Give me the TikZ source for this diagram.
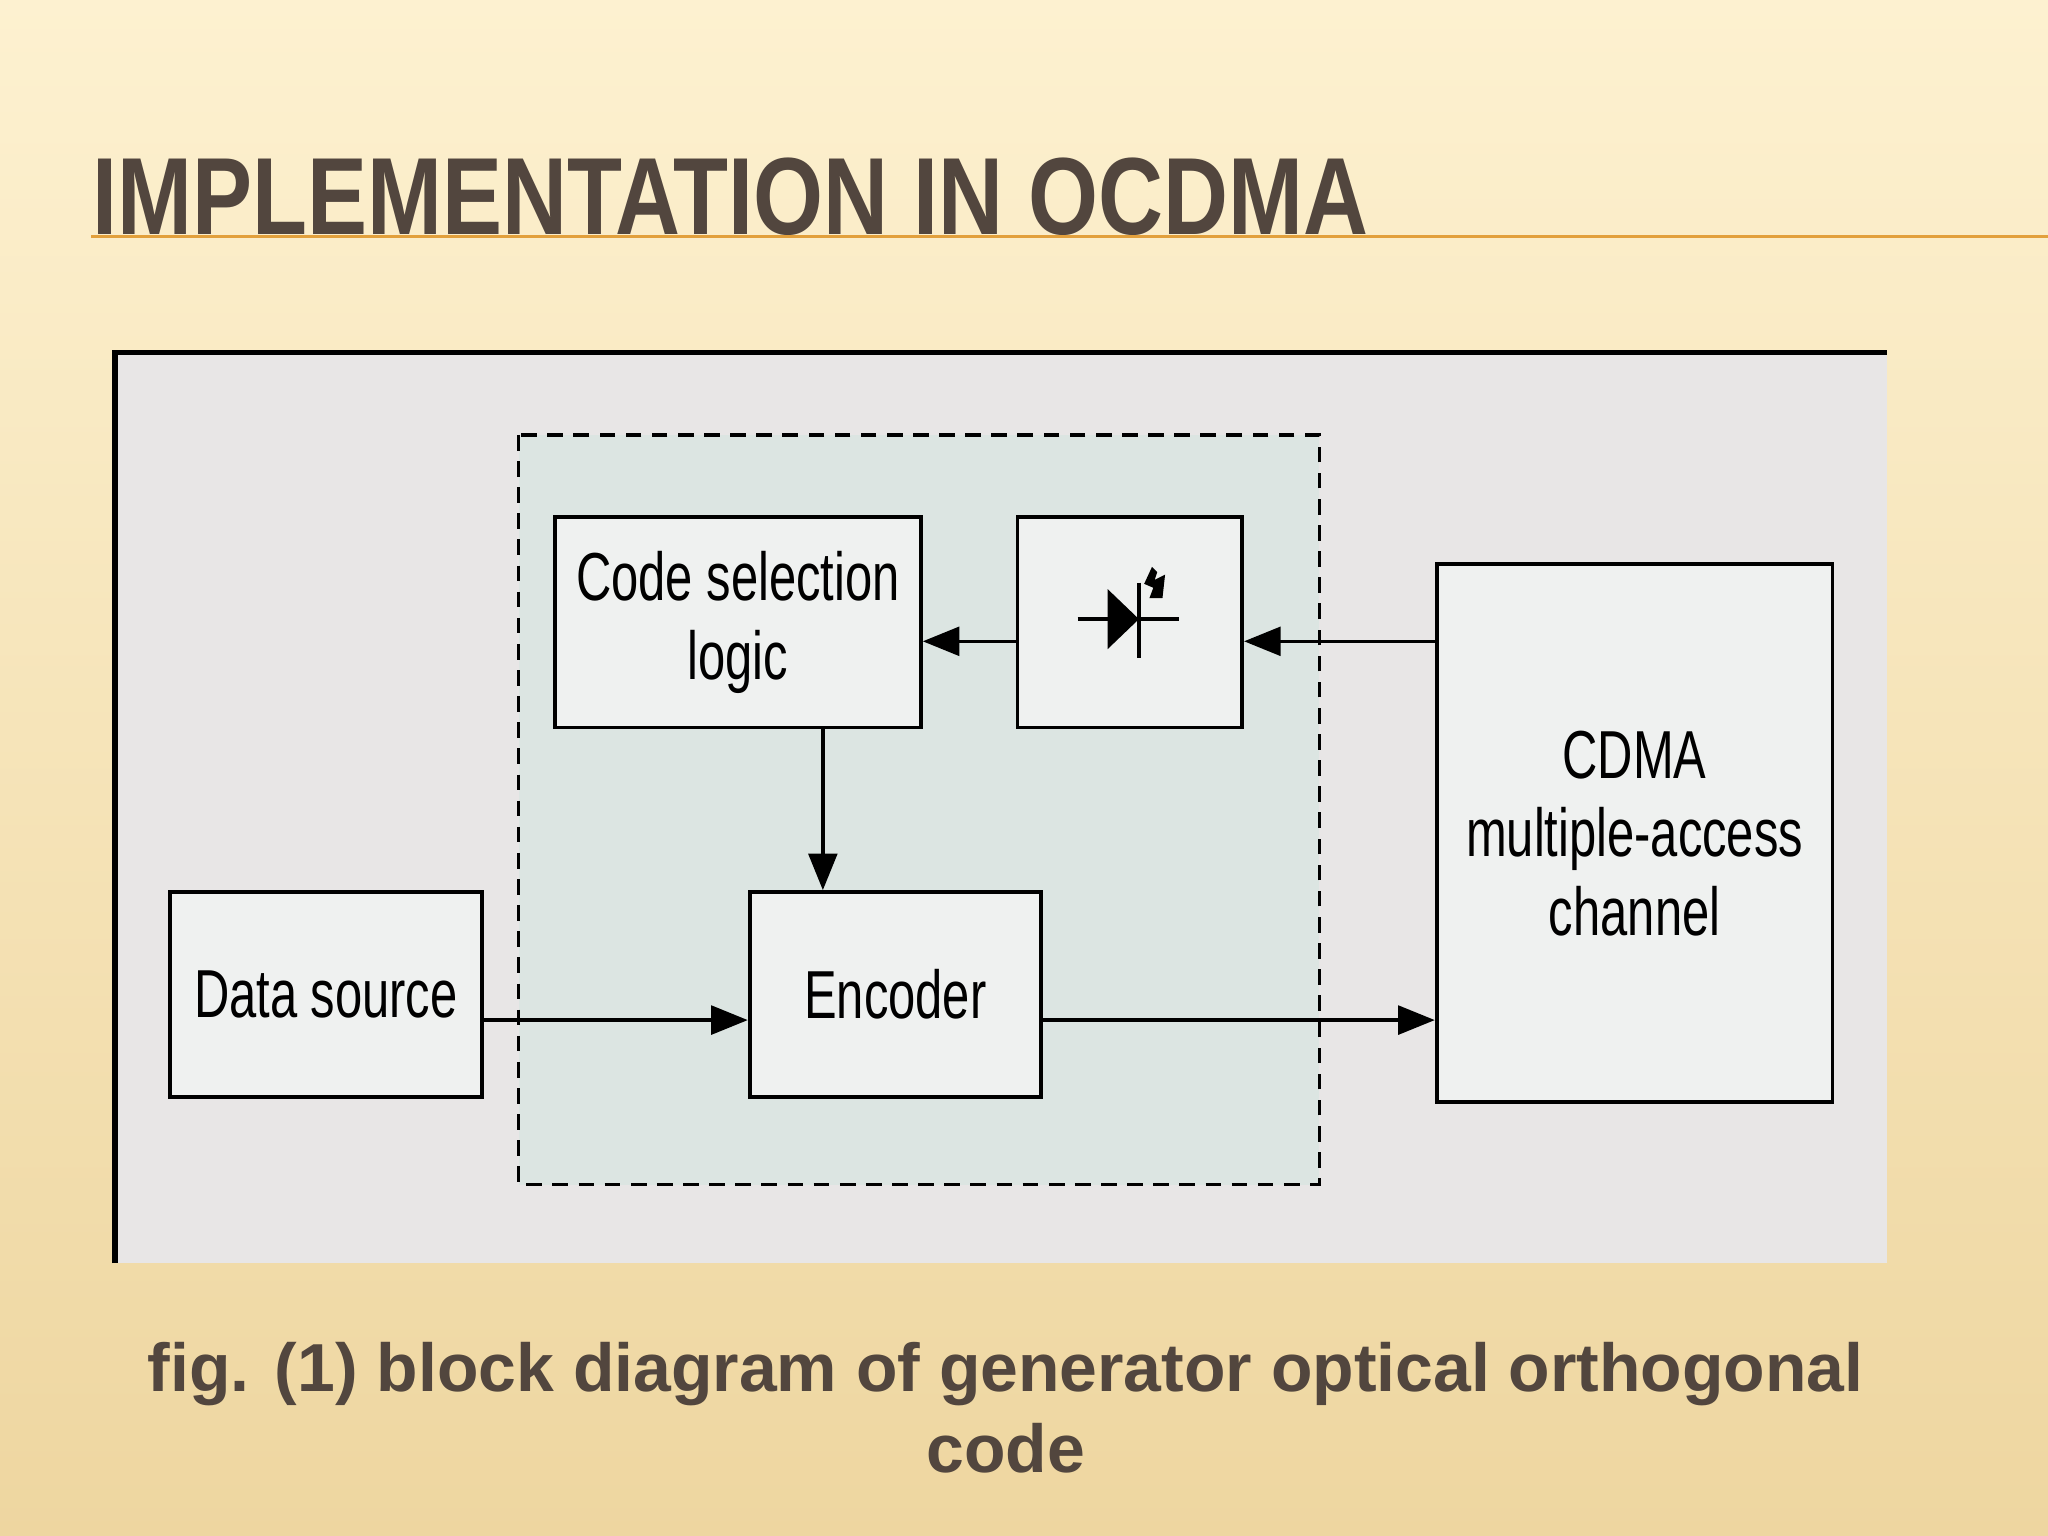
\documentclass[tikz,border=0pt]{standalone}
\usepackage{fontspec}
\setmainfont{Liberation Sans}
\newfontfamily\boxfont{Liberation Sans}[FakeStretch=0.72]
\newfontfamily\titlefont{Liberation Sans}[FakeStretch=0.82]
\usetikzlibrary{arrows.meta}
\definecolor{bgtop}{RGB}{253,241,208}
\definecolor{bgbot}{RGB}{238,214,160}
\definecolor{panel}{RGB}{232,230,230}
\definecolor{inner}{RGB}{220,229,226}
\definecolor{boxfill}{RGB}{239,241,240}
\definecolor{titlecol}{RGB}{82,70,62}
\definecolor{rulecol}{RGB}{226,160,60}
\tikzset{every picture/.style={line width=0.75pt}}
\tikzset{
  blk/.style={draw,line width=1.5pt,fill=boxfill,font=\boxfont\fontsize{26}{30}\selectfont,align=center,inner sep=0pt},
  flow/.style={line width=1.3pt,-{Triangle[length=14pt,width=11pt]}}
}
\begin{document}
\begin{tikzpicture}[x=0.5pt,y=0.5pt,yscale=-1,xscale=1]
	%background
	\shade [top color=bgtop,bottom color=bgbot] (0,0) rectangle (1568,1176);
	\useasboundingbox (0,0) rectangle (1568,1176);

	% Title
	\node (title) [anchor=south west,inner sep=0pt,text=titlecol,font=\titlefont\bfseries\fontsize{42}{44}\selectfont] at (70,181) {IMPLEMENTATION IN OCDMA};
	\draw [rulecol,line width=1pt] (70,181) -- (1568,181);

	% Panel
	\fill [panel] (88,270) rectangle (1445,967);
	\draw [line width=2pt] (88,967) -- (88,270) -- (1445,270);
	% Dashed region
	\draw [dashed,line width=1.2pt,fill=inner,dash pattern=on 6pt off 4pt] (397,333) rectangle (1010,907);

	% Blocks
	\node (code) [blk,minimum width=140pt,minimum height=80.5pt] at (565,476.5) {Code selection\\logic};
	\node (diode) [blk,minimum width=86pt,minimum height=80.5pt] at (865,476.5) {};
	\node (cdma) [blk,minimum width=151.5pt,minimum height=206pt] at (1251.5,638) {CDMA\\multiple-access\\channel};
	\node (data) [blk,minimum width=119.5pt,minimum height=78.5pt] at (249.5,761.5) {Data source};
	\node (enc) [blk,minimum width=111.5pt,minimum height=78.5pt] at (685.5,761.5) {Encoder};

	% Photodiode symbol
	\draw [line width=1.5pt] (825,474) -- (903,474);
	\fill (848,451) -- (872,474) -- (848,497) -- cycle;
	\draw [line width=1.5pt] (872,446) -- (872,504);
	\fill (876,447) -- (882,434) -- (886,438) -- (884,444) -- (892,440) -- (890,458) -- (880,458) -- (883,450) -- cycle;

	% Connections
	\draw [flow] (cdma.west |- 0,491) -- (diode.east |- 0,491);
	\draw [flow] (diode.west |- 0,491) -- (code.east |- 0,491);
	\draw [flow] (code.south -| 630,0) -- (enc.north -| 630,0);
	\draw [flow] (data.east |- 0,781) -- (enc.west |- 0,781);
	\draw [flow] (enc.east |- 0,781) -- (cdma.west |- 0,781);

	% Caption
	\node (cap) [text=titlecol,font=\bfseries\fontsize{26}{31}\selectfont,align=center] at (770,1078) {fig. (1) block diagram of generator optical orthogonal\\code};
\end{tikzpicture}
\end{document}
